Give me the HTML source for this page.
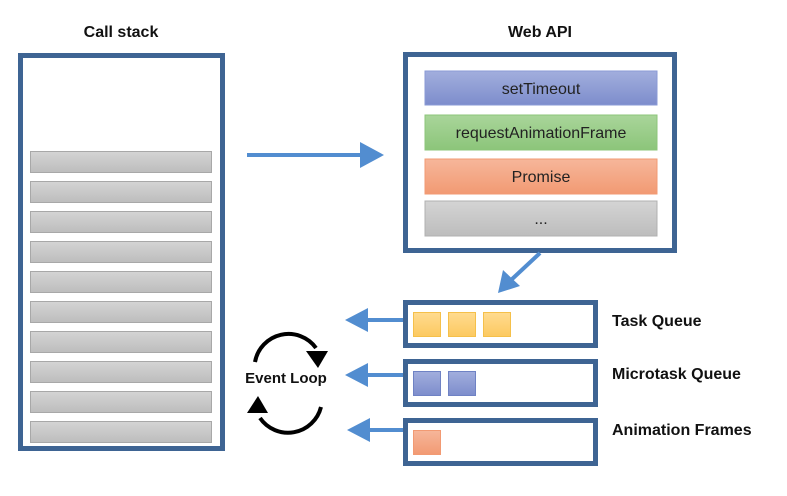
<!DOCTYPE html>
<html><head><meta charset="utf-8"><style>
html,body{margin:0;padding:0;background:#fff;}
svg{display:block;}
text{font-family:"Liberation Sans","Noto Sans CJK KR",sans-serif;}
</style></head><body>
<svg width="787" height="496" viewBox="0 0 787 496" xmlns="http://www.w3.org/2000/svg">
<defs>
<linearGradient id="g" x1="0" y1="0" x2="0" y2="1"><stop offset="0" stop-color="#d4d4d4"/><stop offset="1" stop-color="#bdbdbd"/></linearGradient>
<linearGradient id="b" x1="0" y1="0" x2="0" y2="1"><stop offset="0" stop-color="#a2aedd"/><stop offset="1" stop-color="#7d8dcc"/></linearGradient>
<linearGradient id="gr" x1="0" y1="0" x2="0" y2="1"><stop offset="0" stop-color="#a9d59a"/><stop offset="1" stop-color="#8cc57a"/></linearGradient>
<linearGradient id="o" x1="0" y1="0" x2="0" y2="1"><stop offset="0" stop-color="#f6b69a"/><stop offset="1" stop-color="#f29a73"/></linearGradient>
<linearGradient id="y" x1="0" y1="0" x2="0" y2="1"><stop offset="0" stop-color="#ffdb90"/><stop offset="1" stop-color="#fcc960"/></linearGradient>
</defs>
<g font-weight="bold" font-size="16" fill="#111">
<text x="121" y="37" text-anchor="middle">Call stack</text>
<text x="540" y="37" text-anchor="middle">Web API</text>
<text x="612" y="326">Task Queue</text>
<text x="612" y="379">Microtask Queue</text>
<text x="612" y="435">Animation Frames</text>
<text x="286" y="383" text-anchor="middle" font-size="15">Event Loop</text>
</g>
<rect x="20.5" y="55.5" width="202" height="393" fill="#fff" stroke="#3e6493" stroke-width="5"/>
<g fill="url(#g)" stroke="#a8a8a8" stroke-width="1">
<rect x="30.5" y="151.5" width="181" height="21"/><rect x="30.5" y="181.5" width="181" height="21"/>
<rect x="30.5" y="211.5" width="181" height="21"/><rect x="30.5" y="241.5" width="181" height="21"/>
<rect x="30.5" y="271.5" width="181" height="21"/><rect x="30.5" y="301.5" width="181" height="21"/>
<rect x="30.5" y="331.5" width="181" height="21"/><rect x="30.5" y="361.5" width="181" height="21"/>
<rect x="30.5" y="391.5" width="181" height="21"/><rect x="30.5" y="421.5" width="181" height="21"/>
</g>
<rect x="405.5" y="54.5" width="269" height="196" fill="#fff" stroke="#3e6493" stroke-width="5"/>
<rect x="425" y="71" width="232" height="34" fill="url(#b)" stroke="#8a9ad5"/>
<rect x="425" y="115" width="232" height="35" fill="url(#gr)" stroke="#8cc57a"/>
<rect x="425" y="159" width="232" height="35" fill="url(#o)" stroke="#f29a73"/>
<rect x="425" y="201" width="232" height="35" fill="url(#g)" stroke="#b0b0b0"/>
<g font-size="16" fill="#222" text-anchor="middle">
<text x="541" y="94">setTimeout</text>
<text x="541" y="138">requestAnimationFrame</text>
<text x="541" y="182">Promise</text>
<text x="541" y="224">...</text>
</g>
<g fill="#fff" stroke="#3e6493" stroke-width="5">
<rect x="405.5" y="302.5" width="190" height="43"/>
<rect x="405.5" y="361.5" width="190" height="43"/>
<rect x="405.5" y="420.5" width="190" height="43"/>
</g>
<g fill="url(#y)" stroke="#f5c04a">
<rect x="413.5" y="312.5" width="27" height="24"/><rect x="448.5" y="312.5" width="27" height="24"/><rect x="483.5" y="312.5" width="27" height="24"/>
</g>
<g fill="url(#b)" stroke="#6f82c4">
<rect x="413.5" y="371.5" width="27" height="24"/><rect x="448.5" y="371.5" width="27" height="24"/>
</g>
<rect x="413.5" y="430.5" width="27" height="24" fill="url(#o)" stroke="#f29a73"/>
<g fill="#528dd0" stroke="#528dd0">
<line x1="247" y1="155" x2="362" y2="155" stroke-width="4"/>
<polygon points="360,142 384,155 360,168" stroke="none"/>
<line x1="540" y1="253" x2="510" y2="281" stroke-width="4"/>
<polygon points="498,293 503,270 520,286" stroke="none"/>
<line x1="403" y1="320" x2="365" y2="320" stroke-width="4"/>
<polygon points="345,320 368,308 368,332" stroke="none"/>
<line x1="403" y1="375" x2="365" y2="375" stroke-width="4"/>
<polygon points="345,375 368,363 368,387" stroke="none"/>
<line x1="403" y1="430" x2="365" y2="430" stroke-width="4"/>
<polygon points="347,430 370,418 370,442" stroke="none"/>
</g>
<g fill="none" stroke="#000" stroke-width="4">
<path d="M255,362 A34,34 0 0 1 316,348"/>
<path d="M321,407 A34,34 0 0 1 260,418"/>
</g>
<polygon points="306,351 328,351 318,368" fill="#000"/>
<polygon points="247,413 268,413 258,396" fill="#000"/>
</svg>
</body></html>
